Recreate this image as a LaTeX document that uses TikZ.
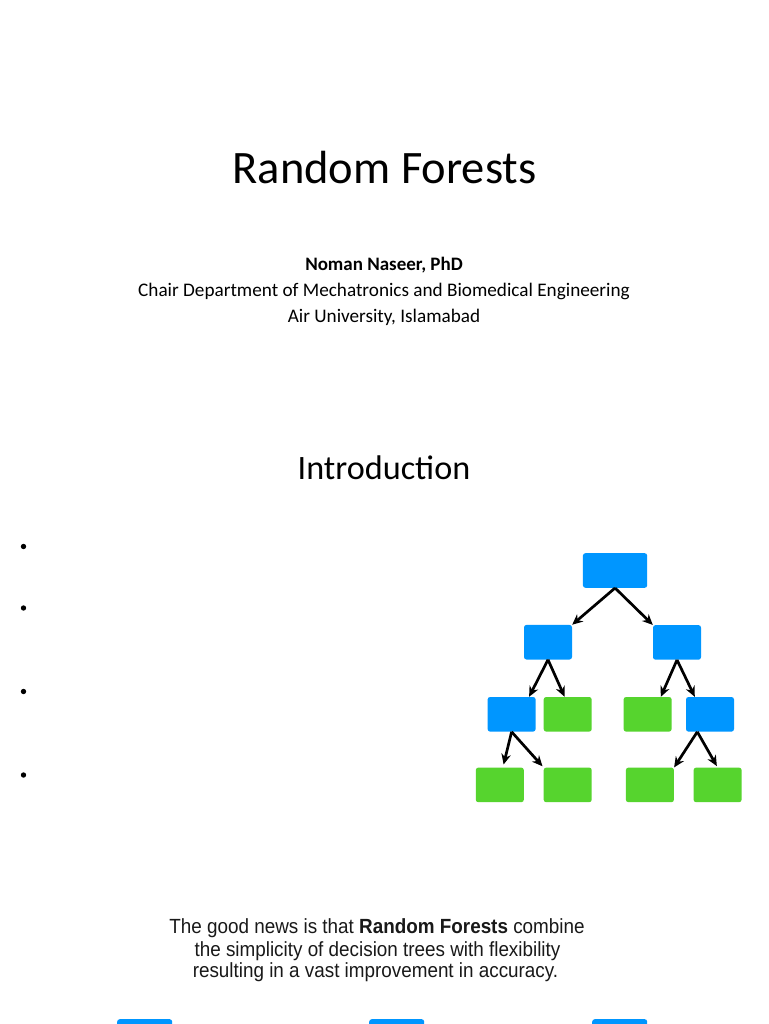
\documentclass[tikz,border=0pt]{standalone}
\usepackage{fontspec}
\setmainfont{Carlito}
\newfontfamily\capfont{Liberation Sans}
\usetikzlibrary{arrows.meta}
\definecolor{treeblue}{HTML}{0096FF}
\definecolor{treegreen}{HTML}{56D42E}
\tikzset{
  tbox/.style={rectangle,rounded corners=2.5pt,inner sep=0pt,minimum width=#1,minimum height=34.6pt,anchor=north west},
  tbox/.default=48pt,
  bluebox/.style={tbox=#1,fill=treeblue},
  bluebox/.default=48pt,
  greenbox/.style={tbox=#1,fill=treegreen},
  greenbox/.default=48pt,
  edge/.style={draw=black,line width=2.7pt,-{Stealth[length=10.5pt,width=9.5pt]}},
  slidetext/.style={anchor=base,inner sep=0pt,text=black},
  captext/.style={anchor=base,inner sep=0pt,text=black!90,xscale=.92,transform shape,font=\capfont\fontsize{20.5}{24}\selectfont},
  dotmark/.style={circle,fill=black,inner sep=0pt,minimum size=5.4pt}
}
\begin{document}
\begin{tikzpicture}[x=1pt,y=-1pt]
\useasboundingbox (0,0) rectangle (768,1024);
\fill[white] (0,0) rectangle (768,1024);
% titles
\node[slidetext,font=\fontsize{46.5}{50}\selectfont] (title) at (384.5,184) {Random Forests};
\node[slidetext,font=\bfseries\fontsize{19}{22}\selectfont] (author) at (384,270.5) {Noman Naseer, PhD};
\node[slidetext,font=\fontsize{19.2}{22}\selectfont] (dept) at (384,296.5) {Chair Department of Mechatronics and Biomedical Engineering};
\node[slidetext,font=\fontsize{19.2}{22}\selectfont] (univ) at (384,322.5) {Air University, Islamabad};
\node[slidetext,font=\fontsize{34.2}{38}\selectfont] (intro) at (384,479.5) {Introduction};
% bullets
\node[dotmark] (b1) at (23.5,546.5) {};
\node[dotmark] (b2) at (23.5,608) {};
\node[dotmark] (b3) at (23.5,691.5) {};
\node[dotmark] (b4) at (23.5,775) {};
% tree
\node[bluebox=64.3pt] (root) at (582.7,553) {};
\node[bluebox] (l1) at (523.8,624.7) {};
\node[bluebox] (r1) at (652.8,624.9) {};
\node[bluebox] (la) at (487.4,696.8) {};
\node[greenbox] (lb) at (543.5,696.8) {};
\node[greenbox] (ra) at (623.4,696.8) {};
\node[bluebox] (rb) at (685.8,696.8) {};
\node[greenbox] (laa) at (475.6,767.4) {};
\node[greenbox] (lab) at (543.5,767.4) {};
\node[greenbox] (rba) at (625.7,767.4) {};
\node[greenbox] (rbb) at (693.4,767.4) {};
\draw[edge] (root.south) -- (l1.north east);
\draw[edge] (root.south) -- (r1.north west);
\draw[edge] (l1.south) -- (la.45);
\draw[edge] (l1.south) -- (lb.100);
\draw[edge] (r1.south) -- (ra.53);
\draw[edge] (r1.south) -- (rb.131);
\draw[edge,shorten >=3pt] (la.south) -- (laa.80);
\draw[edge,shorten >=1.5pt] (la.south) -- (lab.north west);
\draw[edge] (rb.234) -- (rba.north east);
\draw[edge,shorten >=1.5pt] (rb.234) -- (rbb.north);
% caption
\node[captext] (c1) at (377,933.5) {The good news is that \textbf{Random Forests} combine};
\node[captext] (c2) at (377.5,956) {the simplicity of decision trees with flexibility};
\node[captext] (c3) at (375.5,977.5) {resulting in a vast improvement in accuracy.};
% cut-off boxes at the foot
\begin{scope}
\clip (0,0) rectangle (768,1024);
\node[bluebox=55pt] (f1) at (117,1019) {};
\node[bluebox=55pt] (f2) at (369,1019) {};
\node[bluebox=55pt] (f3) at (592,1019) {};
\end{scope}
\end{tikzpicture}
\end{document}
